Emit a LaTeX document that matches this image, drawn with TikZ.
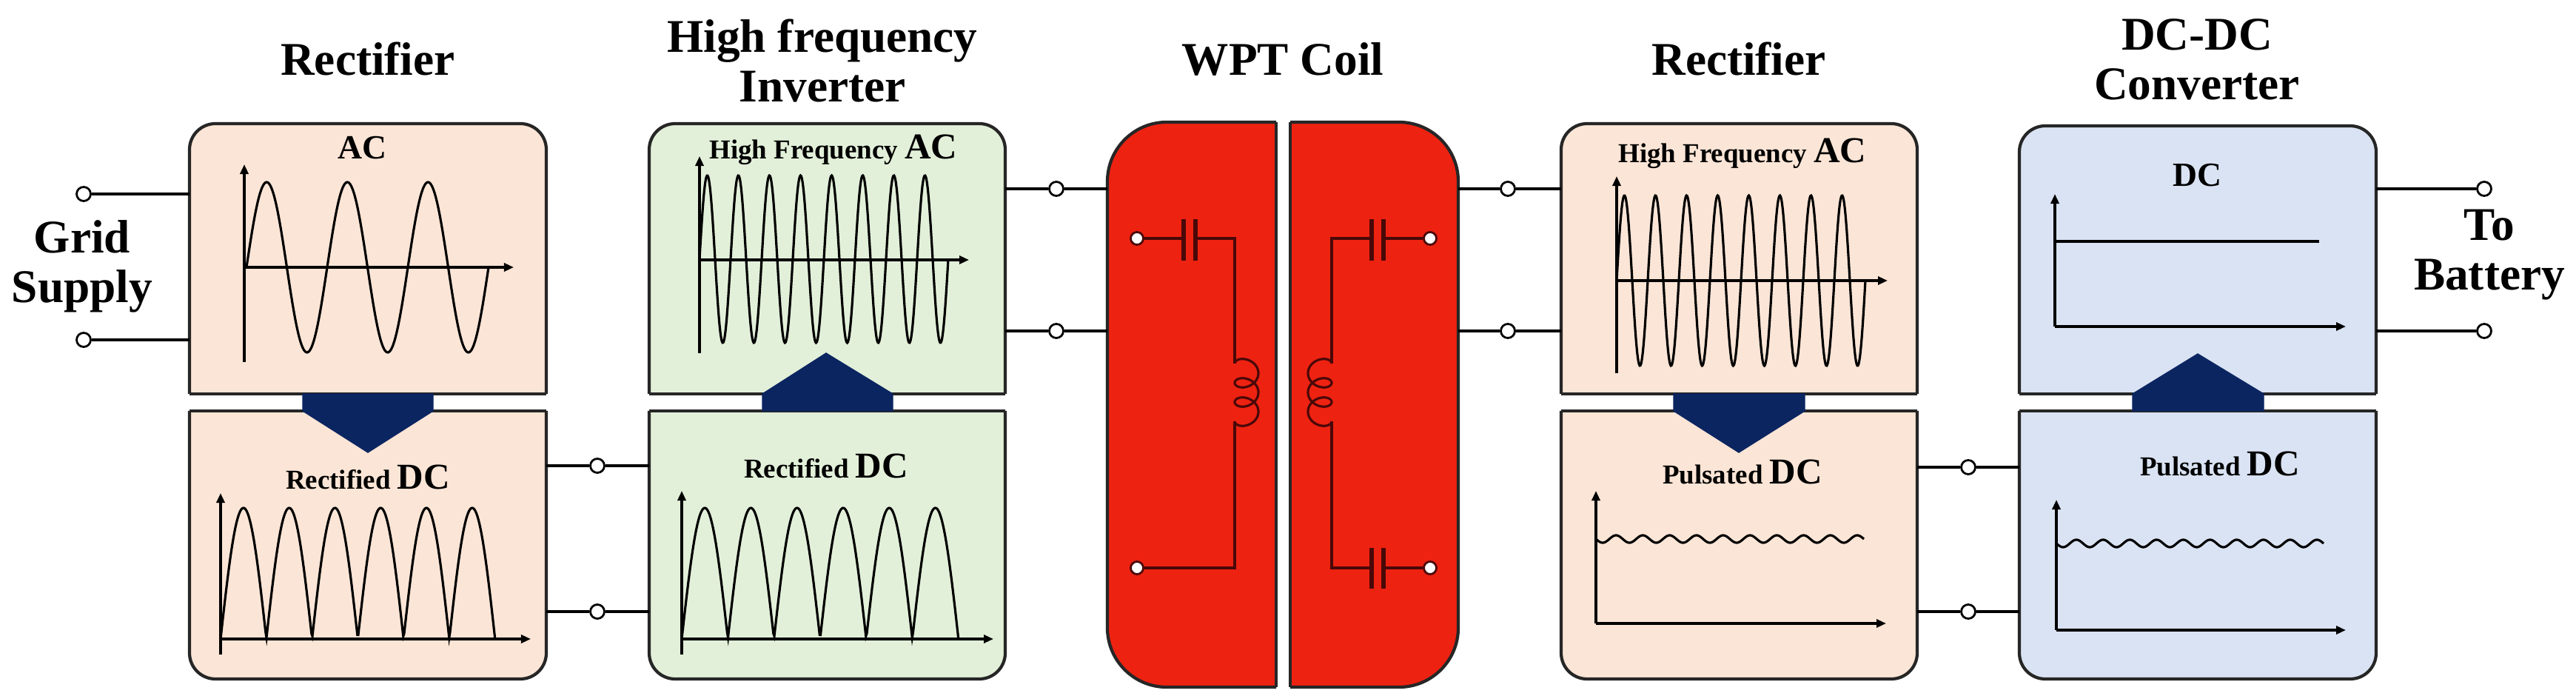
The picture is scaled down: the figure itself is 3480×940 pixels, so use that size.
\documentclass[tikz,border=0pt]{standalone}
\usepackage{fontspec}
\setmainfont{Liberation Serif}
\usetikzlibrary{arrows.meta}
\definecolor{peach}{HTML}{FBE5D6}
\definecolor{mint}{HTML}{E2F0D9}
\definecolor{sky}{HTML}{DAE3F3}
\definecolor{navy}{HTML}{0B2561}
\definecolor{coilred}{HTML}{EE2211}
\definecolor{wire}{HTML}{4A0808}
\tikzset{
  boxline/.style={line width=1.2pt, draw=black!85},
  axis/.style={line width=0.9pt, -{Triangle[length=0.13cm,width=0.11cm]}},
  wave/.style={line width=0.9pt},
  term/.style={circle, draw, fill=white, line width=0.8pt, minimum size=0.19cm, inner sep=0pt},
  cterm/.style={circle, draw=wire, fill=white, line width=0.8pt, minimum size=0.17cm, inner sep=0pt},
  conn/.style={line width=0.9pt},
  title/.style={font=\fontsize{18}{19}\selectfont\bfseries, align=center},
  lab/.style={font=\fontsize{10.5}{12}\selectfont\bfseries},
  arrowshape/.style={fill=navy, draw=navy},
  cwire/.style={line width=0.9pt, draw=wire},
  capplate/.style={line width=1.8pt, draw=wire}
}
\newcommand{\topbox}[5]{% x1 y1 x2 y2 color
  \fill[#5, rounded corners=0.35cm] (#1,#4) -- (#1,#2) -- (#3,#2) -- (#3,#4);
  \draw[boxline, rounded corners=0.35cm] (#1,#4) -- (#1,#2) -- (#3,#2) -- (#3,#4);
  \draw[boxline] (#1,#4) -- (#3,#4);}
\newcommand{\botbox}[5]{%
  \fill[#5, rounded corners=0.35cm] (#1,#2) -- (#1,#4) -- (#3,#4) -- (#3,#2);
  \draw[boxline, rounded corners=0.35cm] (#1,#2) -- (#1,#4) -- (#3,#4) -- (#3,#2);
  \draw[boxline] (#1,#2) -- (#3,#2);}
\begin{document}
\begin{tikzpicture}[x=0.01cm,y=-0.01cm]
\useasboundingbox (0,0) rectangle (3480,940);

% ---------- boxes ----------
\topbox{256}{167}{738}{532}{peach}
\botbox{256}{555}{738}{917}{peach}
\topbox{877}{167}{1358}{532}{mint}
\botbox{877}{555}{1358}{917}{mint}
\topbox{2109}{167}{2590}{532}{peach}
\botbox{2109}{555}{2590}{917}{peach}
\topbox{2728}{170}{3210}{532}{sky}
\botbox{2728}{555}{3210}{917}{sky}

% ---------- coil halves ----------
\fill[coilred, rounded corners=0.8cm] (1724,165) -- (1496,165) -- (1496,928) -- (1724,928);
\draw[boxline, rounded corners=0.8cm] (1724,165) -- (1496,165) -- (1496,928) -- (1724,928);
\draw[boxline] (1724,165) -- (1724,928);
\fill[coilred, rounded corners=0.8cm] (1743,165) -- (1970,165) -- (1970,928) -- (1743,928);
\draw[boxline, rounded corners=0.8cm] (1743,165) -- (1970,165) -- (1970,928) -- (1743,928);
\draw[boxline] (1743,165) -- (1743,928);

% ---------- titles ----------
\node[title] (t1) at (497,80) {Rectifier};
\node[title] (t2) at (1111,82) {High frequency\\Inverter};
\node[title] (t3) at (1733,80) {WPT Coil};
\node[title] (t4) at (2349,80) {Rectifier};
\node[title] (t5) at (2968,80) {DC-DC\\Converter};
\node[title] (gs) at (111,360) {Grid\\Supply};
\node[title] (tb) at (3363,344) {To\\Battery};

% ---------- labels ----------
\node[font=\fontsize{13}{14}\selectfont\bfseries] (l1) at (490,200) {AC};
\node[lab] (l2) at (497,644) {Rectified \fontsize{14}{14}\selectfont DC};
\node[lab] (l3) at (1126,202) {High Frequency \fontsize{14}{14}\selectfont AC};
\node[lab] (l4) at (1116,629) {Rectified \fontsize{14}{14}\selectfont DC};
\node[lab] (l5) at (2354,207) {High Frequency \fontsize{14}{14}\selectfont AC};
\node[lab] (l6) at (2354,637) {Pulsated \fontsize{14}{14}\selectfont DC};
\node[font=\fontsize{13}{14}\selectfont\bfseries] (l7) at (2968,237) {DC};
\node[lab] (l8) at (2999,626) {Pulsated \fontsize{14}{14}\selectfont DC};

% ---------- plots ----------
\draw[axis] (330,489) -- (330,222);
\draw[axis] (330,361) -- (694,361);
\draw[wave] plot[domain=0:1080, samples=220, smooth] ({333+\x/360*109},{361-115*sin(\x)});
\draw[axis] (298,884) -- (298,666);
\draw[axis] (298,863) -- (717,863);
\draw[wave] plot[domain=0:1080, samples=300] ({298+\x/180*61.8},{863-177*abs(sin(\x))});
\draw[axis] (945,477) -- (945,211);
\draw[axis] (945,351) -- (1309,351);
\draw[wave] plot[domain=0:2880, samples=400, smooth] ({945+\x/360*42},{350-113*sin(\x)});
\draw[axis] (921,884) -- (921,663);
\draw[axis] (921,863) -- (1342,863);
\draw[wave] plot[domain=0:1080, samples=300] ({921+\x/180*62.3},{863-177*abs(sin(\x))});
\draw[axis] (2184,504) -- (2184,238);
\draw[axis] (2184,379) -- (2550,379);
\draw[wave] plot[domain=0:2880, samples=400, smooth] ({2184+\x/360*42},{379-115*sin(\x)});
\draw[axis] (2156,842) -- (2156,663);
\draw[axis] (2156,842) -- (2548,842);
\draw[wave] plot[domain=0:3600, samples=300, smooth] ({2156+\x/360*36.2},{728+5*sin(\x)});
\draw[axis] (2776,441) -- (2776,262);
\draw[axis] (2776,441) -- (3169,441);
\draw[wave] (2776,326) -- (3133,326);
\draw[axis] (2778,851) -- (2778,675);
\draw[axis] (2778,851) -- (3169,851);
\draw[wave] plot[domain=0:3600, samples=300, smooth] ({2778+\x/360*36.1},{734+5*sin(\x)});

% ---------- navy arrows ----------
\fill[arrowshape] (409,532) -- (585,532) -- (585,555) -- (497,611) -- (409,555) -- cycle;
\fill[arrowshape] (1030,555) -- (1206,555) -- (1206,532) -- (1116,477) -- (1030,532) -- cycle;
\fill[arrowshape] (2261,532) -- (2438,532) -- (2438,555) -- (2349,611) -- (2261,555) -- cycle;
\fill[arrowshape] (2881,555) -- (3058,555) -- (3058,532) -- (2969,478) -- (2881,532) -- cycle;

% ---------- coil circuits ----------
\node[cterm] (ca) at (1536,322) {};
\node[cterm] (cb) at (1536,767) {};
\draw[cwire] (ca) -- (1599,322);
\draw[capplate] (1599,296) -- (1599,352);
\draw[capplate] (1615,296) -- (1615,352);
\draw[cwire] (1615,322) -- (1668,322) -- (1668,491);
\draw[cwire] plot[domain=0:1080, samples=200, smooth] ({1668+16*(1-cos(\x))},{491+\x/360*26-12*sin(\x)});
\draw[cwire] (1668,569) -- (1668,767) -- (cb);

\node[cterm] (cc) at (1932,322) {};
\node[cterm] (cd) at (1932,767) {};
\draw[cwire] (cc) -- (1869,322);
\draw[capplate] (1869,296) -- (1869,352);
\draw[capplate] (1853,296) -- (1853,352);
\draw[cwire] (1853,322) -- (1799,322) -- (1799,491);
\draw[cwire] plot[domain=0:1080, samples=200, smooth] ({1799-16*(1-cos(\x))},{491+\x/360*26-12*sin(\x)});
\draw[cwire] (1799,569) -- (1799,767) -- (1853,767);
\draw[capplate] (1853,740) -- (1853,795);
\draw[capplate] (1869,740) -- (1869,795);
\draw[cwire] (1869,767) -- (cd);

% ---------- terminals and connectors ----------
\coordinate (b1l1) at (256,262); \coordinate (b1l2) at (256,459);
\node[term] (g1) at (113,262) {}; \node[term] (g2) at (113,459) {};
\draw[conn] (g1) -- (b1l1); \draw[conn] (g2) -- (b1l2);

\coordinate (b1r1) at (738,629); \coordinate (b2l1) at (877,629);
\coordinate (b1r2) at (738,826); \coordinate (b2l2) at (877,826);
\node[term] (k1) at (807,629) {}; \node[term] (k2) at (807,826) {};
\draw[conn] (b1r1) -- (k1) -- (b2l1); \draw[conn] (b1r2) -- (k2) -- (b2l2);

\coordinate (b2r1) at (1358,255); \coordinate (cl1) at (1496,255);
\coordinate (b2r2) at (1358,447); \coordinate (cl2) at (1496,447);
\node[term] (k3) at (1427,255) {}; \node[term] (k4) at (1427,447) {};
\draw[conn] (b2r1) -- (k3) -- (cl1); \draw[conn] (b2r2) -- (k4) -- (cl2);

\coordinate (cr1) at (1970,255); \coordinate (b3l1) at (2109,255);
\coordinate (cr2) at (1970,447); \coordinate (b3l2) at (2109,447);
\node[term] (k5) at (2037,255) {}; \node[term] (k6) at (2037,447) {};
\draw[conn] (cr1) -- (k5) -- (b3l1); \draw[conn] (cr2) -- (k6) -- (b3l2);

\coordinate (b3r1) at (2590,631); \coordinate (b4l1) at (2728,631);
\coordinate (b3r2) at (2590,826); \coordinate (b4l2) at (2728,826);
\node[term] (k7) at (2659,631) {}; \node[term] (k8) at (2659,826) {};
\draw[conn] (b3r1) -- (k7) -- (b4l1); \draw[conn] (b3r2) -- (k8) -- (b4l2);

\coordinate (b4r1) at (3210,255); \coordinate (b4r2) at (3210,447);
\node[term] (o1) at (3356,255) {}; \node[term] (o2) at (3356,447) {};
\draw[conn] (b4r1) -- (o1); \draw[conn] (b4r2) -- (o2);
\end{tikzpicture}
\end{document}
